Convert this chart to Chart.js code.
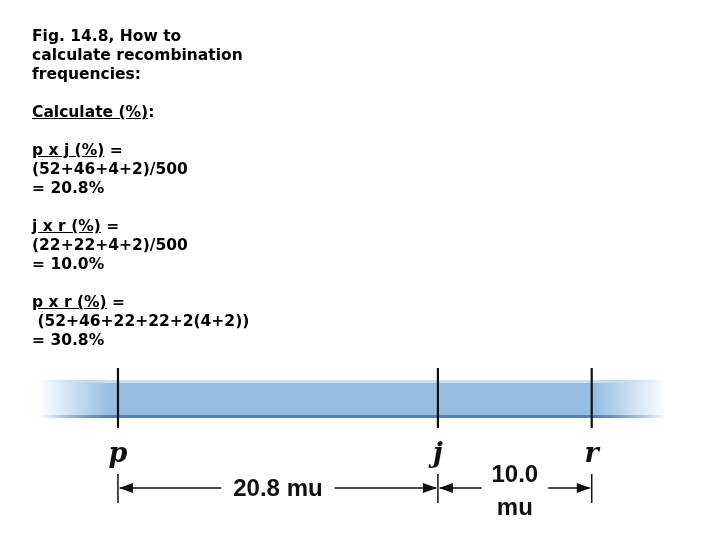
<!DOCTYPE html>
<html><head><meta charset="utf-8">
<script src="https://cdn.jsdelivr.net/npm/chart.js@4.4.1/dist/chart.umd.min.js"></script>
<style>
html,body{margin:0;padding:0;background:#fff;width:720px;height:540px;overflow:hidden}
#wrap{position:absolute;left:0;top:0;width:720px;height:540px}
#txt{position:absolute;left:32px;top:27px;font-family:"DejaVu Sans",Verdana,sans-serif;font-weight:bold;font-size:15.5px;line-height:19px;color:#000;white-space:pre}
u{text-decoration:underline}
</style></head><body>
<div id="wrap"><canvas id="c" width="720" height="540"></canvas></div>
<div id="txt">Fig. 14.8, How to
calculate recombination
frequencies:

<u>Calculate (%)</u>:

<u>p x j (%)</u> =
(52+46+4+2)/500
= 20.8%

<u>j x r (%)</u> =
(22+22+4+2)/500
= 10.0%

<u>p x r (%)</u> =
 (52+46+22+22+2(4+2))
= 30.8%</div>
<script>
const loci = ['p','j','r'];
const positions = [0, 20.8, 30.8];
const intervals = [{from:0,to:20.8,label:['20.8 mu']},{from:20.8,to:30.8,label:['10.0','mu']}];
const bandRange = [-5.1, 35.6];

const datasets = positions.map(p => ({
  type:'line', data:[{x:p,y:368},{x:p,y:428}], borderColor:'#111', borderWidth:2.2, pointRadius:0
}));

const diagram = {
  id:'diagram',
  beforeDatasetsDraw(chart){
    const {ctx, scales:{x,y}} = chart;
    const x0 = x.getPixelForValue(bandRange[0]), x1 = x.getPixelForValue(bandRange[1]);
    const yt = y.getPixelForValue(380), yb = y.getPixelForValue(418);
    const w = x1-x0;
    const grad=(rgb)=>{const g=ctx.createLinearGradient(x0,0,x1,0);
      g.addColorStop(0,`rgba(${rgb},0)`);g.addColorStop(70/w,`rgba(${rgb},1)`);
      g.addColorStop(1-70/w,`rgba(${rgb},1)`);g.addColorStop(1,`rgba(${rgb},0)`);return g;};
    ctx.save();
    ctx.fillStyle = grad('150,190,228'); ctx.fillRect(x0,yt,w,yb-yt);
    ctx.fillStyle = grad('80,130,190'); ctx.fillRect(x0,yb-3,w,3);
    ctx.fillStyle = grad('200,222,242'); ctx.fillRect(x0,yt,w,3);
    ctx.restore();
  },
  afterDatasetsDraw(chart){
    const {ctx, scales:{x,y}} = chart;
    ctx.save();
    ctx.fillStyle='#111'; ctx.strokeStyle='#111';
    ctx.font = 'italic bold 27px "DejaVu Serif", "Liberation Serif", serif';
    ctx.textAlign='center'; ctx.textBaseline='alphabetic';
    loci.forEach((l,i)=>ctx.fillText(l, x.getPixelForValue(positions[i]), y.getPixelForValue(462)));
    const ya = y.getPixelForValue(488);
    ctx.lineWidth=1.5;
    positions.forEach(p=>{const px=x.getPixelForValue(p);ctx.beginPath();ctx.moveTo(px,y.getPixelForValue(474));ctx.lineTo(px,y.getPixelForValue(503));ctx.stroke();});
    const arrow=(from,to)=>{
      const d = Math.sign(to-from);
      ctx.beginPath();ctx.moveTo(to,ya);ctx.lineTo(to-d*14,ya-5);ctx.lineTo(to-d*14,ya+5);ctx.closePath();ctx.fill();
    };
    ctx.font='bold 24px "Liberation Sans", Arial, sans-serif';
    ctx.textBaseline='middle';
    intervals.forEach(iv=>{
      const a=x.getPixelForValue(iv.from), b=x.getPixelForValue(iv.to), m=(a+b)/2;
      let half;
      if(iv.label.length===1){
        half = ctx.measureText(iv.label[0]).width/2+12;
        ctx.fillText(iv.label[0], m, ya+1);
      } else {
        half = Math.max(...iv.label.map(t=>ctx.measureText(t).width))/2+10;
        ctx.fillText(iv.label[0], m, ya-13);
        ctx.fillText(iv.label[1], m, ya+20);
      }
      ctx.beginPath();ctx.moveTo(a+2,ya);ctx.lineTo(m-half,ya);ctx.moveTo(m+half,ya);ctx.lineTo(b-2,ya);ctx.stroke();
      arrow(m,a+1); arrow(m,b-1);
    });
    ctx.restore();
  }
};

new Chart(document.getElementById('c'),{
  type:'line',
  data:{datasets},
  options:{
    responsive:false, animation:false, events:[],
    layout:{padding:0},
    plugins:{legend:{display:false},tooltip:{enabled:false}},
    scales:{
      x:{type:'linear',min:-7.67,max:39.14,display:false},
      y:{type:'linear',min:0,max:540,reverse:true,display:false}
    }
  },
  plugins:[diagram]
});
</script>
</body></html>
